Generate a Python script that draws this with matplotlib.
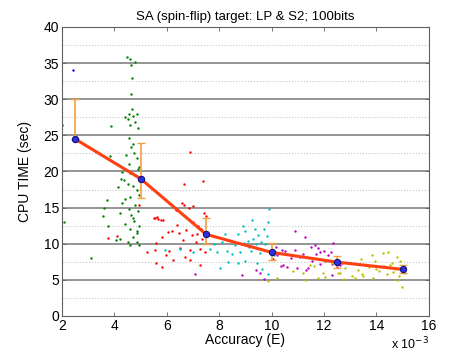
import matplotlib
matplotlib.use("Agg")
import matplotlib.pyplot as plt
from matplotlib.ticker import FuncFormatter, MultipleLocator

plt.rcParams["font.family"] = ["Liberation Sans", "DejaVu Sans"]

# accuracy values are in units of 1e-3
acc_levels = [2.5, 5.0, 7.5, 10.0, 12.5, 15.0]
mean_time = [24.5, 19.0, 11.3, 8.8, 7.45, 6.45]
err_low = [24.5, 16.3, 10.0, 7.75, 6.7, 5.9]
err_high = [30.0, 23.9, 13.6, 10.05, 8.3, 7.05]

blue_x = [2.42, 2.0, 2.47]
blue_y = [34.1, 26.4, 24.6]

green_x = [4.49, 4.59, 4.77, 4.63, 4.66, 4.62, 4.66, 4.55, 4.85, 4.70, 4.40, 4.50,
           4.80, 4.60, 3.87, 4.90, 4.57, 4.70, 4.65, 4.75, 4.45, 4.85, 3.85, 4.55,
           4.90, 4.95, 4.30, 4.60, 4.80, 4.25, 4.38, 4.50, 4.15, 4.70, 4.85, 4.60,
           4.95, 4.40, 3.70, 4.30, 4.80, 3.60, 4.55, 4.90, 4.20, 4.65, 3.55, 4.75,
           4.40, 4.95, 4.58, 3.75, 4.85, 4.70, 4.20, 4.50, 4.85, 4.05, 4.60, 4.95,
           2.09, 3.10, 4.72, 4.88]
green_y = [35.8, 35.5, 35.2, 34.8, 33.0, 30.7, 28.6, 28.0, 27.9, 27.7, 27.6, 27.2,
           26.9, 26.5, 26.3, 26.0, 24.6, 23.8, 23.4, 22.5, 22.3, 21.8, 22.2, 21.0,
           20.3, 20.6, 19.9, 19.8, 19.5, 19.0, 18.8, 18.2, 17.9, 18.0, 17.5, 16.5,
           16.8, 16.2, 16.0, 15.6, 15.3, 15.0, 14.8, 14.5, 14.2, 14.0, 13.8, 13.2,
           12.8, 12.5, 12.0, 12.5, 11.5, 11.0, 10.6, 10.3, 10.2, 10.5, 9.8, 9.8,
           13.0, 8.0, 13.6, 11.8]

red_x = [6.64, 7.37, 6.88, 6.57, 6.65, 6.85, 7.00, 6.35, 5.55, 5.65, 5.84, 7.40,
         7.50, 7.00, 7.20, 6.20, 6.45, 6.75, 6.95, 6.05, 7.15, 7.30, 5.80, 5.23,
         5.55, 6.10, 6.50, 6.90, 7.25, 7.45, 6.25, 6.90, 7.27, 5.60, 4.95, 5.50,
         5.62, 5.78, 3.75, 4.09, 5.60, 5.80, 6.60, 7.10, 6.40, 7.35, 5.95, 6.70]
red_y = [18.3, 18.7, 22.7, 15.6, 15.3, 15.0, 15.2, 14.6, 13.6, 13.4, 13.3, 14.3,
         13.8, 13.0, 12.5, 11.8, 11.5, 11.9, 11.2, 11.6, 11.4, 12.0, 11.0, 8.9,
         9.2, 9.0, 9.4, 9.1, 9.3, 8.8, 7.7, 7.7, 7.0, 7.4, 15.4, 13.5,
         13.7, 13.3, 10.8, 11.1, 10.1, 6.8, 10.5, 10.2, 12.6, 10.7, 8.4, 8.2]

cyan_x = [9.91, 9.87, 9.71, 9.81, 8.22, 8.73, 8.98, 9.36, 9.49, 9.10, 8.95, 9.30,
          9.60, 9.75, 5.93, 6.50, 7.00, 7.65, 7.90, 8.30, 8.50, 8.80, 9.20, 9.55,
          8.35, 8.70, 9.00, 9.45, 8.03, 9.65, 9.85, 7.80, 8.10, 8.60, 9.15, 9.40,
          9.95, 10.10, 8.90, 9.25]
cyan_y = [14.8, 13.05, 12.1, 11.1, 11.4, 11.4, 11.8, 12.1, 11.2, 10.4, 10.1, 10.6,
          10.3, 10.0, 9.2, 9.3, 8.9, 9.3, 8.8, 9.0, 8.6, 8.8, 9.0, 8.7,
          7.5, 7.4, 7.6, 7.3, 6.6, 6.5, 5.8, 10.0, 10.3, 9.8, 9.6, 9.9,
          9.0, 8.4, 12.5, 13.3]

magenta_x = [10.89, 11.27, 11.50, 11.75, 11.85, 11.70, 12.00, 12.35, 10.35, 10.45,
             10.60, 10.95, 11.30, 11.40, 11.85, 12.05, 12.29, 12.50, 12.60, 10.20,
             10.05, 10.40, 10.75, 11.10, 11.55, 12.15, 12.45, 7.07, 8.86, 9.40,
             9.70, 9.55, 10.15, 10.50, 11.65, 12.25, 12.70, 11.20, 10.90, 12.30]
magenta_y = [11.8, 11.0, 9.5, 9.4, 8.8, 8.6, 9.0, 10.06, 6.9, 7.1, 6.8, 6.6,
             6.4, 6.7, 7.2, 7.6, 5.7, 6.8, 7.0, 8.5, 7.9, 9.2, 8.0, 8.1,
             7.6, 8.4, 7.8, 5.8, 5.7, 6.3, 5.1, 5.9, 9.6, 9.0, 9.8, 8.9,
             7.4, 8.6, 9.1, 7.2]

yellow_x = [11.20, 11.33, 11.77, 12.05, 12.60, 12.99, 13.30, 13.45, 13.70, 13.82,
            13.95, 14.26, 14.45, 14.77, 14.50, 14.10, 14.40, 14.70, 14.85, 14.96,
            14.77, 13.20, 13.50, 12.80, 12.30, 11.60, 10.20, 9.85, 10.80, 11.95,
            12.55, 13.05, 13.60, 14.00, 14.60, 15.05, 14.90, 13.85, 12.75, 11.45,
            14.30, 13.40, 14.65, 15.10]
yellow_y = [5.9, 5.0, 5.3, 5.4, 6.0, 7.3, 6.3, 5.8, 6.8, 8.4,
            7.6, 8.7, 8.9, 8.2, 7.0, 6.2, 5.8, 6.5, 5.6, 4.06,
            5.0, 5.3, 5.6, 6.6, 7.4, 6.9, 5.2, 4.9, 6.2, 6.0,
            5.9, 5.5, 7.1, 6.5, 7.3, 6.8, 7.6, 5.3, 5.1, 7.0,
            6.9, 7.9, 6.1, 5.9]

scatter_sets = [
    (blue_x, blue_y, (0.0, 0.0, 1.0)),
    (green_x, green_y, (0.0, 0.5, 0.0)),
    (red_x, red_y, (1.0, 0.0, 0.0)),
    (cyan_x, cyan_y, (0.0, 0.75, 0.75)),
    (magenta_x, magenta_y, (0.75, 0.0, 0.75)),
    (yellow_x, yellow_y, (0.75, 0.75, 0.0)),
]

fig = plt.figure(figsize=(4.74, 3.55), dpi=100)
ax = fig.add_axes([0.1308, 0.1099, 0.774, 0.8141])

# grid: solid at multiples of 5, dotted in between
for v in range(5, 40, 5):
    ax.axhline(v, color="#8c8c8c", linewidth=1.3, zorder=0)
for v in range(1, 16, 2):
    ax.axhline(v * 2.5, color="#c8c8c8", linewidth=0.8, linestyle=":", zorder=0)

for xs, ys, col in scatter_sets:
    ax.scatter([x * 1e-3 for x in xs], ys, s=3, color=col, linewidths=0, zorder=2)

xs = [a * 1e-3 for a in acc_levels]
lower = [m - lo for m, lo in zip(mean_time, err_low)]
upper = [hi - m for m, hi in zip(mean_time, err_high)]
ax.errorbar(xs, mean_time, yerr=[lower, upper], fmt="none", ecolor="#f0a040",
            elinewidth=1.2, capsize=3, capthick=1.0, zorder=3)
ax.plot(xs, mean_time, color="#ff4010", linewidth=2.2, zorder=4)
ax.plot(xs, mean_time, linestyle="none", marker="o", markersize=4.5,
        markerfacecolor="#3030e0", markeredgecolor="#10107a", markeredgewidth=0.8,
        zorder=5)

ax.set_xlim(2e-3, 16e-3)
ax.set_ylim(0, 40)
ax.xaxis.set_major_locator(MultipleLocator(2e-3))
ax.yaxis.set_major_locator(MultipleLocator(5))
ax.xaxis.set_major_formatter(FuncFormatter(lambda v, p: f"{v * 1e3:.0f}"))
ax.tick_params(direction="in", length=3, width=0.6, labelsize=10, top=True,
               right=True, color="#606060", pad=2)
for sp in ax.spines.values():
    sp.set_color("#606060")
    sp.set_linewidth(0.8)

ax.set_title("SA (spin-flip) target: LP & S2; 100bits", fontsize=9.5, pad=5)
ax.set_xlabel("Accuracy (E)", fontsize=10, labelpad=0)
ax.set_ylabel("CPU TIME (sec)", fontsize=10, labelpad=8)
ax.text(1.0, -0.125, "x 10$^{-3}$", transform=ax.transAxes, ha="right", va="bottom",
        fontsize=9)

fig.savefig("out.png", dpi=100)
